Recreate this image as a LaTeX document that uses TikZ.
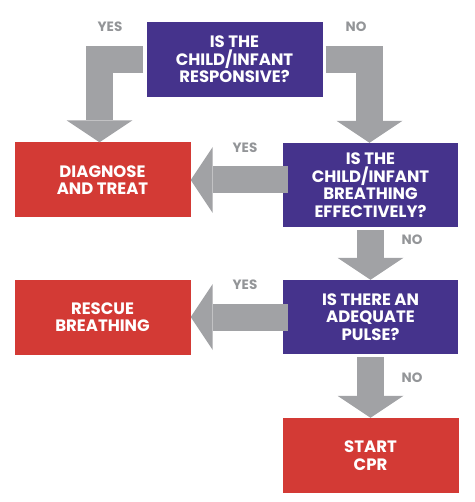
\documentclass[tikz,border=0pt]{standalone}
\usepackage{fontspec}
\setmainfont{Poppins}
\usetikzlibrary{arrows.meta}
\definecolor{askpurple}{RGB}{69,51,140}
\definecolor{actred}{RGB}{211,58,53}
\definecolor{flowgray}{RGB}{161,162,165}
\definecolor{answergray}{RGB}{147,149,152}
\tikzset{
  askbox/.style={fill=askpurple,text=white,align=center,inner sep=0pt,
    font=\bfseries\fontsize{16.5}{17.5}\selectfont,minimum width=176pt,minimum height=75pt},
  actbox/.style={askbox,fill=actred},
  flow/.style={draw=flowgray,line width=27pt,line join=miter,
    -{Triangle[length=22pt,width=66pt,line width=0pt]}},
  answer/.style={text=answergray,font=\bfseries\fontsize{13.5}{15}\selectfont}
}
\begin{document}
\begin{tikzpicture}[x=1pt,y=-1pt]
\useasboundingbox (0,0) rectangle (474,502);
\node[askbox] (resp) at (234.5,59.5) {IS THE\\CHILD/INFANT\\RESPONSIVE?};
\node[actbox] (treat) at (102.5,180) {DIAGNOSE\\AND TREAT};
\node[askbox,minimum height=84pt,minimum width=175pt] (breath) at (370.5,185) {IS THE\\CHILD/INFANT\\BREATHING\\EFFECTIVELY?};
\node[actbox] (rescue) at (102.5,317) {RESCUE\\BREATHING};
\node[askbox,minimum width=175pt,minimum height=74pt] (pulse) at (370.5,317) {IS THERE AN\\ADEQUATE\\PULSE?};
\node[actbox] (cpr) at (370.5,455.5) {START\\CPR};
% arrows
\draw[flow,shorten <=3pt] (resp.west) -| ([xshift=-3pt]treat.north);
\draw[flow,shorten <=3pt] (resp.east) -| ([xshift=-1pt]breath.north);
\draw[flow,shorten <=-5pt] (breath.west |- treat.east) -- (treat.east);
\draw[flow,shorten <=3pt] (breath.south) -- (pulse.north);
\draw[flow,shorten <=-5pt] (pulse.west) -- (rescue.east);
\draw[flow,shorten <=3pt] (pulse.south) -- (cpr.north);
% answers
\node[answer] (yes1) at (110,27) {YES};
\node[answer] (no1) at (356,27) {NO};
\node[answer] (yes2) at (245,148) {YES};
\node[answer] (no2) at (412,240) {NO};
\node[answer] (yes3) at (245,285) {YES};
\node[answer] (no3) at (412,378) {NO};
\end{tikzpicture}
\end{document}
